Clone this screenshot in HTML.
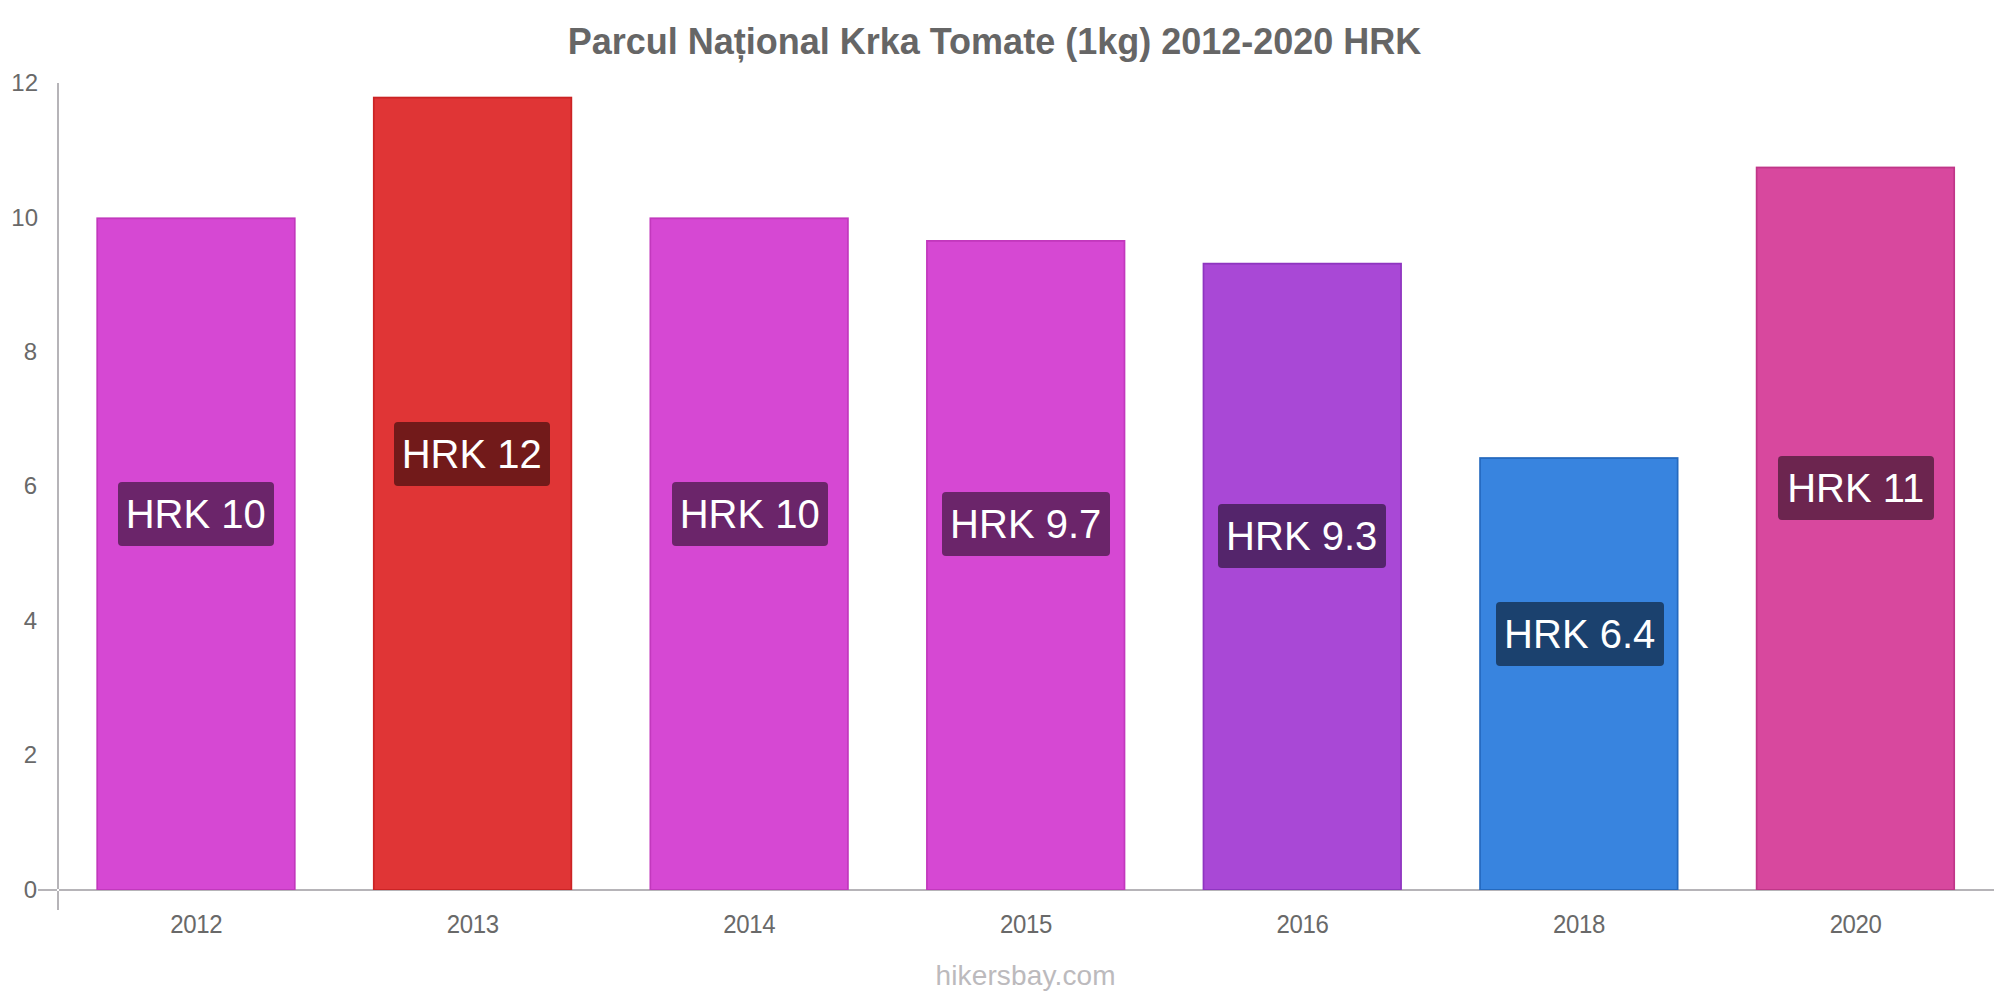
<!DOCTYPE html>
<html lang="ro"><head><meta charset="utf-8"><title>Parcul Național Krka Tomate (1kg) 2012-2020 HRK</title>
<style>
html,body{margin:0;padding:0;background:#fff;}
body{width:2000px;height:1000px;overflow:hidden;position:relative;font-family:"Liberation Sans",sans-serif;}
svg{position:absolute;left:0;top:0;display:block}
text{font-family:"Liberation Sans",sans-serif;}
.t{font-size:36px;font-weight:bold;fill:#666;text-anchor:middle}
.y{font-size:24px;fill:#696969;text-anchor:end}
.x{font-size:24px;fill:#696969;text-anchor:middle;letter-spacing:-0.35px}
.f{font-size:28px;fill:#bcbabd;text-anchor:middle;letter-spacing:0.14px}
.l{font-size:40px;fill:#fff;text-anchor:middle}
</style></head><body>
<svg width="2000" height="1000" viewBox="0 0 2000 1000">
<rect width="2000" height="1000" fill="#fff"/>
<text class="t" x="994.5" y="54">Parcul Național Krka Tomate (1kg) 2012-2020 HRK</text>
<rect x="57" y="83" width="2" height="806" fill="#b6b4b8"/>
<rect x="57" y="891" width="2" height="19" fill="#b6b4b8"/>
<rect x="38" y="889" width="19" height="2" fill="#b6b4b8"/>
<rect x="59" y="889" width="1935" height="2" fill="#b6b4b8"/>
<text class="y" x="38" y="91.00">12</text>
<text class="y" x="38" y="225.50">10</text>
<text class="y" x="37" y="359.80">8</text>
<text class="y" x="37" y="494.30">6</text>
<text class="y" x="37" y="628.80">4</text>
<text class="y" x="37" y="763.30">2</text>
<text class="y" x="37" y="897.50">0</text>
<rect x="96.34" y="217.40" width="199.30" height="672.60" fill="#c238bd"/>
<rect x="98.04" y="219.20" width="195.90" height="669.80" fill="#d648d3"/>
<text class="x" transform="translate(196.19 932.8) scale(1 1.05)">2012</text>
<rect x="118" y="482" width="156" height="64" rx="4" ry="4" fill="#6b256a"/>
<text class="l" x="195.70" y="528.30">HRK 10</text>
<rect x="372.91" y="96.70" width="199.30" height="793.30" fill="#cb2324"/>
<rect x="374.61" y="98.50" width="195.90" height="790.50" fill="#e03536"/>
<text class="x" transform="translate(472.76 932.8) scale(1 1.05)">2013</text>
<rect x="394" y="422" width="156" height="64" rx="4" ry="4" fill="#721a1a"/>
<text class="l" x="471.70" y="468.30">HRK 12</text>
<rect x="649.48" y="217.40" width="199.30" height="672.60" fill="#c238bd"/>
<rect x="651.18" y="219.20" width="195.90" height="669.80" fill="#d648d3"/>
<text class="x" transform="translate(749.33 932.8) scale(1 1.05)">2014</text>
<rect x="672" y="482" width="156" height="64" rx="4" ry="4" fill="#6b256a"/>
<text class="l" x="749.70" y="528.30">HRK 10</text>
<rect x="926.05" y="240.00" width="199.30" height="650.00" fill="#c238bd"/>
<rect x="927.75" y="241.80" width="195.90" height="647.20" fill="#d648d3"/>
<text class="x" transform="translate(1025.90 932.8) scale(1 1.05)">2015</text>
<rect x="942" y="492" width="168" height="64" rx="4" ry="4" fill="#6b256a"/>
<text class="l" x="1025.70" y="538.30">HRK 9.7</text>
<rect x="1202.62" y="262.75" width="199.30" height="627.25" fill="#8f35c0"/>
<rect x="1204.32" y="264.55" width="195.90" height="624.45" fill="#a948d6"/>
<text class="x" transform="translate(1302.47 932.8) scale(1 1.05)">2016</text>
<rect x="1218" y="504" width="168" height="64" rx="4" ry="4" fill="#54256b"/>
<text class="l" x="1301.70" y="550.30">HRK 9.3</text>
<rect x="1479.19" y="457.15" width="199.30" height="432.85" fill="#2469be"/>
<rect x="1480.89" y="458.95" width="195.90" height="430.05" fill="#3884df"/>
<text class="x" transform="translate(1579.04 932.8) scale(1 1.05)">2018</text>
<rect x="1496" y="602" width="168" height="64" rx="4" ry="4" fill="#1b416e"/>
<text class="l" x="1579.70" y="648.30">HRK 6.4</text>
<rect x="1755.76" y="166.60" width="199.30" height="723.40" fill="#c03688"/>
<rect x="1757.46" y="168.40" width="195.90" height="720.60" fill="#d8489e"/>
<text class="x" transform="translate(1855.61 932.8) scale(1 1.05)">2020</text>
<rect x="1778" y="456" width="156" height="64" rx="4" ry="4" fill="#6c254f"/>
<text class="l" x="1855.70" y="502.30">HRK 11</text>
<text class="f" x="1025.6" y="985">hikersbay.com</text>
</svg>
</body></html>
